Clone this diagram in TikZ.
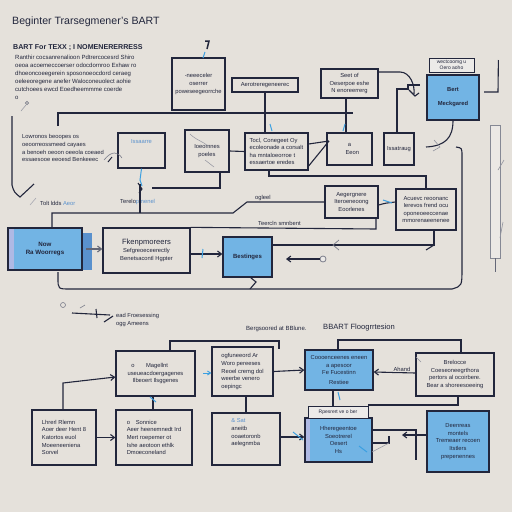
\documentclass[tikz,border=0pt]{standalone}
\usepackage{fontspec}
\setmainfont{Liberation Sans}
\usetikzlibrary{arrows.meta,calc}
\definecolor{bg}{RGB}{229,225,219}
\definecolor{ink}{RGB}{34,38,60}
\definecolor{boxblue}{RGB}{114,180,228}
\definecolor{tabblue}{RGB}{90,145,205}
\definecolor{accent}{RGB}{60,160,225}
\definecolor{strip}{RGB}{175,185,228}
\definecolor{paper}{RGB}{236,234,232}
\begin{document}
\begin{tikzpicture}[x=1pt,y=-1pt,
  box/.style={draw=ink,line width=1.3pt,inner sep=1pt,font=\fontsize{5.8}{7.6}\selectfont,text=ink,align=center},
  bbox/.style={box,fill=boxblue},
  lbl/.style={font=\fontsize{5.8}{7.6}\selectfont,text=ink,inner sep=0pt},
  ln/.style={draw=ink,line width=1.1pt},
  arr/.style={ln,-{Straight Barb[length=4pt,width=6pt]}},
  marker/.style={draw=accent,line width=1pt}]
\fill[bg] (0,0) rectangle (512,512);
\useasboundingbox (0,0) rectangle (512,512);

% ---------- titles and text ----------
\node[lbl,anchor=west,font=\fontsize{10.6}{12}\selectfont] (title) at (12,22) {Beginter Trarsegmener's BART};
\node[lbl,anchor=west,font=\bfseries\fontsize{7.1}{8}\selectfont] (sub) at (13,48) {BART For TEXX ; I NOMENERERRESS};
\node[lbl,anchor=north west,align=left,font=\fontsize{6}{8}\selectfont] (para) at (15,55)
 {Ranthir cocsanrenalioon Pdtrercocesrd Shiro\\
  oeoa acoemeccoerser odocdornroo Exhaw ro\\
  dhoeoncoeegerein sposonoeocdord ceraeg\\
  oeleeoregene anefer Waloconeuolect aohie\\
  cutchoees ewcd Eoedheemmme coerde\\
  o};
\node[lbl,anchor=north west,align=left,font=\fontsize{5.8}{7.8}\selectfont] (para2) at (22,134)
 {Lowronos beoopes os\\
  oeoorreossmeed cayaes\\
  a benoeh oeoon oeeola coeaed\\
  essaesooe eeoesd Benkeeec};
\node[lbl,anchor=west] (tolt) at (40,203) {Tolt ldds \textcolor{tabblue}{Aeor}};
\node[lbl,anchor=west] (terel) at (120,202) {Terelo\textcolor{tabblue}{pmenel}};
\node[lbl,anchor=west] (ogleel) at (255,198) {ogleel};
\node[lbl,anchor=west] (teer) at (258,223) {Teercln smnbent};
\node[lbl,anchor=north west,align=left] (ead) at (116,313) {ead Froesessing\\ogg Ameens};
\node[lbl,anchor=west,font=\fontsize{6}{7}\selectfont] (begs) at (246,329) {Bergsoored at BBlune.};
\node[lbl,anchor=west,font=\fontsize{7.6}{8}\selectfont] (bfl) at (323,328) {BBART Floogrrtesion};

% ---------- top row ----------
\node[box,minimum width=53pt,minimum height=52pt] (boxA) at (198.5,84) {-neeeceler\\oserrer\\poweseegeorrche};
\node[box,minimum width=66pt,minimum height=14pt,anchor=center] (aer) at (265,85) {Aerotreregeneerec};
\node[box,minimum width=57pt,minimum height=29pt] (seet) at (349.5,83.5) {Seet of\\Oeserpoe eshe\\N enoreerrerg};
\node[box,fill=paper,line width=0.8pt,minimum width=45pt,minimum height=14pt,font=\fontsize{5}{5.8}\selectfont] (tab) at (451.5,65) {wectcoomg u\\Oero aoho};
\node[bbox,minimum width=52pt,minimum height=45pt,font=\bfseries\fontsize{5.8}{14}\selectfont] (bert) at (453,97.5) {Bert\\Meckgared};

% ---------- second row ----------
\node[box,minimum width=47pt,minimum height=35pt,text=tabblue,anchor=center] (iss) at (141.5,150.5) {Issaarre\\[10pt]};
\node[box,minimum width=44pt,minimum height=42pt] (ios) at (207,151) {Ioeomnes\\poeles};
\node[box,minimum width=63pt,minimum height=37pt,align=left] (tocl) at (276.5,151.5) {Tocl, Conegeet Oy\\ecoleonade a corsalt\\ha mntaloeorroe t\\essaertoe eredes};
\node[box,minimum width=45pt,minimum height=32pt] (eeon) at (349.5,149) {a\quad\\\quad Eeon};
\node[box,minimum width=30pt,minimum height=32pt] (istr) at (399,149) {Issatraug};

% ---------- third row ----------
\node[box,minimum width=53pt,minimum height=32pt] (aeg) at (351.5,202) {Aegergnere\\Iteroeneoong\\Eoorlenes};
\node[box,minimum width=60pt,minimum height=41pt] (acu) at (426,209.5) {Acuevc reoonanc\\Ierevos frend ocu\\oponeoeeccenae\\mmorenaeenenee};

% ---------- fourth row ----------
\fill[tabblue] (82,233) rectangle (92,270);
\node[bbox,minimum width=74pt,minimum height=42pt,font=\bfseries\fontsize{6.2}{8.5}\selectfont] (now) at (45,249) {Now\\Ra Woorregs};
\fill[strip] (8.6,228.6) rectangle (14,269.4);
\draw[ink,line width=1.3pt] (8,228) rectangle (82,270);
\node[box,minimum width=87pt,minimum height=45pt,font=\fontsize{5.8}{7.8}\selectfont] (fken) at (146.5,250.5) {{\fontsize{7.6}{8.6}\selectfont Fkenpmoreers}\\Sefgreoeceerectly\\Benetsacontl Hgpter};
\node[bbox,minimum width=49pt,minimum height=40pt,font=\bfseries\fontsize{6}{7}\selectfont] (best) at (247.5,257) {Bestinges};

% ---------- lower rows ----------
\node[box,minimum width=79pt,minimum height=45pt] (mag) at (155.5,373.5) {o\qquad Magellnt\qquad\ \\useueacdoergagenes\\Ilbeoert Ilsggenes};
\node[box,minimum width=61pt,minimum height=49pt,align=left] (b2) at (242.5,371.5) {ogfuneeord Ar\\Woro pereeses\\Reoel cremg dol\\weerbe venero\\oepingc};
\node[bbox,minimum width=68pt,minimum height=40pt] (b3) at (339,370) {Coooenceenes eneen\\a apesoor\\Fe Fucestinn\\[2pt]Restiee};
\node[box,minimum width=78pt,minimum height=43pt] (brel) at (455,374.5) {Brelocce\\Coeseoneegrthora\\pertors al ocoirbere.\\Bear a shoreesoeeing};
\node[box,minimum width=64pt,minimum height=55pt,align=left] (lhr) at (64,437.5) {Lhrerl Rlemn\\Aoer deer Hent 8\\Katortos euol\\Moeeneeniena\\Sorvel};
\node[box,minimum width=76pt,minimum height=55pt,align=left] (son) at (154,437.5) {o\quad Sonnice\\Aeer heenemnedt Ird\\Mert roepemer ot\\Ishe aeotoon ethlk\\Dmoeconeland};
\node[box,minimum width=68pt,minimum height=52pt,align=left] (sat) at (246,439) {\textcolor{tabblue}{\& Sat}\\aneitb\\ooaetoronb\\aelegnmba\\[6pt]};
\node[bbox,minimum width=67pt,minimum height=44pt] (hh) at (338.5,440) {Hheregeentoe\\Soeotrerel\\Oesert\\Hs};
\fill[strip] (305.6,418.6) rectangle (310,461.4);
\node[box,fill=paper,line width=0.8pt,minimum width=60pt,minimum height=12pt,font=\fontsize{5}{5.8}\selectfont] (lab) at (338,412) {Rpesrert ve o ber};
\node[bbox,minimum width=62pt,minimum height=61pt] (deen) at (458,441.5) {Deenreas\\montels\\Tremeaer recoen\\Itstlers\\prepenennes};

% ---------- connectors (top half) ----------
\coordinate (tl) at (58,126);
\draw[ln] (tl) -- (58,113) -- (353,113);
\draw[ln] (12,116) -- (12,185) .. controls (14,192) .. (20,197) -- (34,184);
\draw[ink!45,line width=0.6pt] (21,111) -- (26,105);
\draw[ink!60,line width=0.6pt] (27,103) circle (1.6);
\draw[ink!40,line width=0.6pt] (30,205) -- (36,198);
\draw[marker] (205,52) -- (203,58);
\draw[ink,line width=1.5pt] (205,41) -- (209,41) -- (207,49);
\draw[ln] (aer.south) -- (tocl.north -| aer.south);
\draw[marker] (270,124) -- (272,131);
\draw[ln] (seet.south -| 346,0) -- (eeon.north -| 346,0);
\draw[marker] (345,124) -- (343,131);
\draw[ln] (seet.east |- 0,72) -- (400,72) .. controls (410,72) and (415,85) .. (414,94);
\draw[ln] (409,90) -- (415,96) -- (419,93);
\draw[ln] (istr.north -| 397,0) -- (397,89) -- (408,89) -- (408,85) -- (420,85);
\draw[ln] (tab.east |- 0,60) ++(24,0) -- (498,92) -- (484,92);
\draw[ln] (bert.south) .. controls (453,138) and (445,146) .. (426,147);
\draw[ink!50,line width=0.6pt] (434,140) -- (440,147) -- (433,151);
\draw[ln] (ios.east) -- (tocl.west);
\draw[ln] (tocl.east |- 0,144) -- (329,141);
\draw[ln] (tocl.east |- 0,166) -- (329,141);
\draw[ink!60,line width=0.6pt] (104,160) .. controls (112,150) and (118,152) .. (122,158);
\draw[ink,line width=1pt] (108,162) -- (112,157);
\draw[ink!50,line width=0.5pt] (190,134) .. controls (196,140) and (204,142) .. (208,146);
\draw[ink!50,line width=0.5pt] (205,160) -- (214,167);
% second row to third row
\draw[marker] (iss.south) -- (140,180) -- (142,186);
\draw[ln] (140,184) -- (140,213);
\draw[ink,line width=1pt] (138,183) -- (142,189) -- (139,193);
\draw[ln] (ios.south -| 220,0) -- (220,188) -- (152,188);
\draw[ln] (tocl.south -| 269,0) -- (269,176) -- (426,176) -- (acu.north -| 426,0);
\draw[ln] (now.north -| 52,0) -- (52,213) -- (233,213) -- (247,202) -- (aeg.west);
\draw[ln] (fken.north east) -- (376,229) -- (aeg.south -| 376,0);
\draw[ln] (aeg.east |- 0,205) .. controls (386,203) .. (acu.west |- 0,202);
\draw[marker] (383,200) -- (392,203);
\draw[ln] (acu.south -| 434,0) -- (434,245) -- (best.east |- 0,245);
\draw[ink!60,line width=0.7pt] (339,240) -- (333,245) -- (339,250);
\draw[ln] (434,245) -- (426,250);
% big loop
\coordinate (loopa) at (456,147);
\draw[ln] (loopa) .. controls (462,148) .. (462,156) -- (462,268) .. controls (462,286) .. (452,289) -- (70,289) .. controls (58,289) .. (58,278) -- (58,272);
\draw[ln] (best.south east) ++(-22,0) -- (256,282) -- (250,289);
\fill[paper!80!bg] (490,125) rectangle (500,258);
\draw[ink!55,line width=0.8pt] (490,125) rectangle (500,258);
\draw[ink!70,line width=1pt] (495,258) -- (495,272);
\draw[ink!50,line width=0.6pt] (498,170) -- (504,160);
\draw[ink!50,line width=0.6pt] (503,222) -- (500,238);
% fourth row
\draw[arr,draw=ink!70] (86,249) -- (fken.west |- 0,249);
\draw[arr] (fken.east |- 0,254) -- (best.west |- 0,254);
\draw[marker] (203,249) -- (202,258);
\node[circle,draw=ink!60,fill=paper,line width=0.8pt,inner sep=0pt,minimum size=6pt] (circ) at (323,259) {};
\draw[arr] (circ) -- (286,259);

% ---------- connectors (bottom half) ----------
\node[circle,draw=ink!60,line width=0.6pt,inner sep=0pt,minimum size=5pt] (dot) at (63,305) {};
\draw[ln] (72,313) -- (110,315);
\draw[ln] (96,309) -- (97,318);
\draw[ln] (104,322) -- (113,316);
\draw[ink!60,line width=0.6pt] (80,308) -- (85,305);
\draw[ln] (mag.north -| 170,0) -- (170,341) -- (279,341) -- (279,349);
\draw[ln] (b3.north -| 338,0) -- (338,340) -- (461,340) -- (brel.north -| 461,0);
\draw[ink!50,line width=0.6pt] (416,357) -- (421,362);
\draw[arr] (lhr.north -| 63,0) -- (63,383) -- (mag.west |- 0,377);
\draw[marker,-{Straight Barb[length=3pt,width=4pt]}] (203,373) -- (b2.west |- 0,373);
\draw[arr] (b2.east) -- (b3.west);
\draw[arr] (brel.west |- 0,373) -- (b3.east |- 0,372);
\node[lbl,fill=bg,inner sep=0.5pt] (ahand) at (402,369) {Ahand};
\draw[ln] (mag.south -| 153,0) -- (son.north -| 153,0);
\draw[marker] (150,397) -- (156,402);
\draw[ln] (b2.south -| 246,0) -- (sat.north -| 246,0);
\draw[ln] (b3.south -| 333,0) -- (lab.north -| 333,0);
\draw[marker] (338,392) -- (340,400);
\draw[ln] (brel.south -| 458,0) -- (458,405) -- (lab.east |- 0,405);
\draw[arr] (lhr.east) -- (son.west);
\draw[arr] (sat.east |- 0,437) -- (hh.west |- 0,437);
\draw[marker] (293,432) -- (303,440);
\draw[ln] (hh.east |- 0,430) -- (416,430) -- (416,460);
\draw[arr] (deen.west |- 0,435) -- (402,435);
\draw[ln] (hh.east |- 0,443) -- (389,443) -- (389,436);
\draw[ink!45,line width=0.6pt] (372,452) -- (389,443);
\draw[marker] (359,446) -- (367,452);
\end{tikzpicture}
\end{document}
